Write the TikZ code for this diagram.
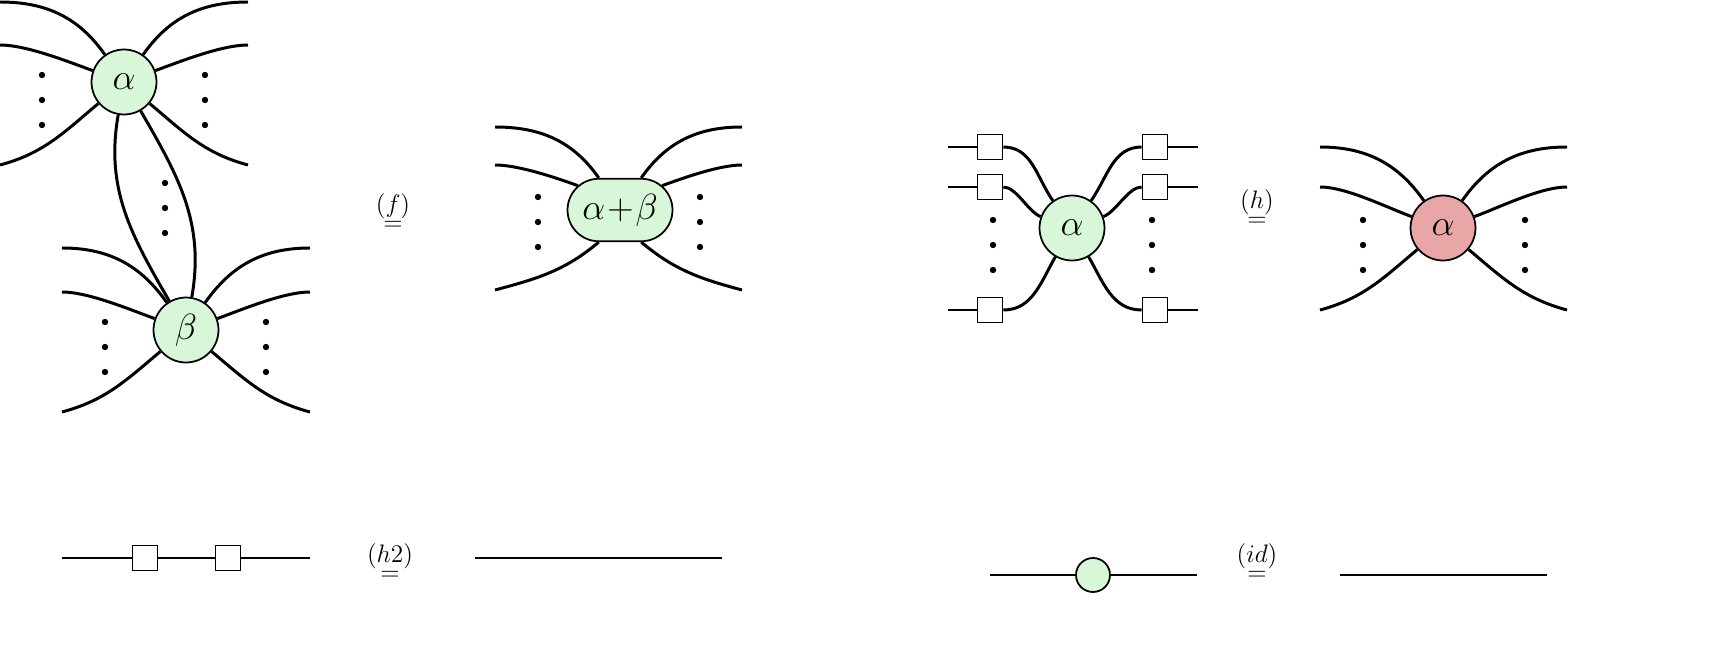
\documentclass[tikz,border=0pt]{standalone}
\usepackage{amsmath}
\usetikzlibrary{positioning,shapes.misc}
\definecolor{zgreen}{RGB}{216,246,216}
\definecolor{zred}{RGB}{232,166,166}
\tikzset{
  wire/.style={line width=1.7pt},
  spider/.style={circle, draw, line width=1pt, fill=zgreen, minimum size=1.3cm, inner sep=0pt, font=\huge},
  hbox/.style={rectangle, draw, line width=1pt, fill=white, minimum size=0.5cm, inner sep=0pt},
  eqlabel/.style={font=\Large, align=center, inner sep=0pt},
}
\newcommand{\dotcol}[2]{\foreach \d in {-25,0,25} \fill (#1,#2+\d) circle (3.2);}
\newcommand{\eqby}[1]{$(#1)$\\[-8pt]$=$}
\begin{document}
\begin{tikzpicture}[x=0.02cm, y=-0.02cm]
  \useasboundingbox (0,0) rectangle (1725,652);
  % fusion
  \node[spider] (a) at (124,82) {$\alpha$};
  \node[spider] (b) at (186,330) {$\beta$};
  \coordinate (a1) at (0,2);   \coordinate (a2) at (0,45);   \coordinate (a3) at (0,165);
  \coordinate (a4) at (248,2); \coordinate (a5) at (248,45); \coordinate (a6) at (248,165);
  \draw[wire] (a1) to[out=0,in=125] (a);
  \draw[wire] (a2) to[out=0,in=160,looseness=0.7] (a);
  \draw[wire] (a3) to[out=15,in=220] (a);
  \draw[wire] (a4) to[out=180,in=55] (a);
  \draw[wire] (a5) to[out=180,in=20,looseness=0.7] (a);
  \draw[wire] (a6) to[out=165,in=-40] (a);
  \draw[wire] (a) to[out=-100,in=120] (b);
  \draw[wire] (a) to[out=-60,in=80] (b);
  \coordinate (b1) at (62,248);  \coordinate (b2) at (62,292);  \coordinate (b3) at (62,412);
  \coordinate (b4) at (310,248); \coordinate (b5) at (310,292); \coordinate (b6) at (310,412);
  \draw[wire] (b1) to[out=0,in=125] (b);
  \draw[wire] (b2) to[out=0,in=160,looseness=0.7] (b);
  \draw[wire] (b3) to[out=15,in=220] (b);
  \draw[wire] (b4) to[out=180,in=55] (b);
  \draw[wire] (b5) to[out=180,in=20,looseness=0.7] (b);
  \draw[wire] (b6) to[out=165,in=-40] (b);
  \dotcol{42}{100} \dotcol{205}{100} \dotcol{165}{208} \dotcol{105}{347} \dotcol{266}{347}
  \node[eqlabel] (eqf) at (393,212) {\eqby{f}};
  \node[spider, rounded rectangle, minimum width=2.1cm, minimum height=1.25cm] (ab) at (620,210) {$\alpha\!+\!\beta$};
  \coordinate (c1) at (495,127); \coordinate (c2) at (495,165); \coordinate (c3) at (495,290);
  \coordinate (c4) at (742,127); \coordinate (c5) at (742,165); \coordinate (c6) at (742,290);
  \draw[wire] (c1) to[out=0,in=125] (ab.north west);
  \draw[wire] (c2) to[out=0,in=160,looseness=0.7] (ab.150);
  \draw[wire] (c3) to[out=15,in=220] (ab.south west);
  \draw[wire] (c4) to[out=180,in=55] (ab.north east);
  \draw[wire] (c5) to[out=180,in=20,looseness=0.7] (ab.30);
  \draw[wire] (c6) to[out=165,in=-40] (ab.south east);
  \dotcol{538}{222} \dotcol{700}{222}
  % colour change
  \node[spider] (g) at (1072,228) {$\alpha$};
  \node[hbox] (h1) at (990,147) {}; \node[hbox] (h2) at (990,187) {}; \node[hbox] (h3) at (990,310) {};
  \node[hbox] (h4) at (1155,147) {}; \node[hbox] (h5) at (1155,187) {}; \node[hbox] (h6) at (1155,310) {};
  \coordinate (d1) at (948,147); \coordinate (d2) at (948,187); \coordinate (d3) at (948,310);
  \coordinate (d4) at (1198,147); \coordinate (d5) at (1198,187); \coordinate (d6) at (1198,310);
  \foreach \i/\j in {d1/h1, d2/h2, d3/h3, h4/d4, h5/d5, h6/d6}
    \draw[wire] (\i) -- (\j);
  \draw[wire] (h1) to[out=0,in=125] (g);
  \draw[wire] (h2) to[out=0,in=160,looseness=0.7] (g);
  \draw[wire] (h3) to[out=0,in=240] (g);
  \draw[wire] (h4) to[out=180,in=55] (g);
  \draw[wire] (h5) to[out=180,in=20,looseness=0.7] (g);
  \draw[wire] (h6) to[out=180,in=-60] (g);
  \dotcol{993}{245} \dotcol{1152}{245}
  \node[eqlabel] (eqh) at (1257,208) {\eqby{h}};
  \node[spider, fill=zred] (r) at (1443,228) {$\alpha$};
  \coordinate (e1) at (1320,147); \coordinate (e2) at (1320,187); \coordinate (e3) at (1320,310);
  \coordinate (e4) at (1567,147); \coordinate (e5) at (1567,187); \coordinate (e6) at (1567,310);
  \draw[wire] (e1) to[out=0,in=125] (r);
  \draw[wire] (e2) to[out=0,in=160,looseness=0.7] (r);
  \draw[wire] (e3) to[out=15,in=220] (r);
  \draw[wire] (e4) to[out=180,in=55] (r);
  \draw[wire] (e5) to[out=180,in=20,looseness=0.7] (r);
  \draw[wire] (e6) to[out=165,in=-40] (r);
  \dotcol{1363}{245} \dotcol{1525}{245}
  % bottom row
  \coordinate (f1) at (62,558); \coordinate (f2) at (310,558);
  \node[hbox] (k1) at (145,558) {}; \node[hbox] (k2) at (228,558) {};
  \draw[wire] (f1) -- (k1) -- (k2) -- (f2);
  \node[eqlabel] (eqh2) at (390,562) {\eqby{h2}};
  \coordinate (f3) at (475,558); \coordinate (f4) at (722,558);
  \draw[wire] (f3) -- (f4);
  \coordinate (f5) at (990,575); \coordinate (f6) at (1197,575);
  \node[spider, minimum size=0.68cm] (s) at (1093,575) {};
  \draw[wire] (f5) -- (s) -- (f6);
  \node[eqlabel] (eqid) at (1257,562) {\eqby{id}};
  \coordinate (f7) at (1340,575); \coordinate (f8) at (1547,575);
  \draw[wire] (f7) -- (f8);
\end{tikzpicture}
\end{document}
